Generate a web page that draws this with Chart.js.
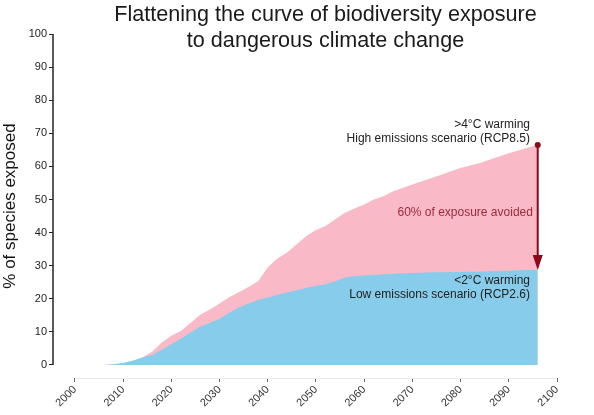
<!DOCTYPE html>
<html lang="en">
<head>
<meta charset="UTF-8">
<title>Flattening the curve of biodiversity exposure</title>
<script src="https://cdn.jsdelivr.net/npm/chart.js"></script>
<style>
  html, body { margin: 0; padding: 0; background: #fff; }
</style>
</head>
<body>
<canvas id="chart" width="594" height="415"></canvas>
<script>
const years = [2006, 2008, 2010, 2012, 2014, 2016, 2018, 2020, 2022, 2024, 2026, 2028,
  2030, 2032, 2034, 2036, 2038, 2040, 2042, 2044, 2046, 2048, 2050, 2052, 2054, 2056,
  2058, 2060, 2062, 2064, 2066, 2068, 2070, 2072, 2074, 2076, 2078, 2080, 2082, 2084,
  2086, 2088, 2090, 2092, 2094, 2096];
const lowEmissions = [0, 0.2, 0.6, 1.3, 2.3, 3.0, 4.6, 6.3, 8.0, 9.8, 11.6, 12.8,
  14.0, 15.8, 17.4, 18.6, 19.6, 20.4, 21.2, 21.9, 22.6, 23.3, 23.9, 24.4, 25.3, 26.4,
  26.8, 27.0, 27.2, 27.4, 27.5, 27.7, 27.8, 27.9, 28.0, 28.0, 28.1, 28.1, 28.2, 28.2,
  28.3, 28.4, 28.5, 28.6, 28.7, 28.7];
const highEmissions = [0, 0.2, 0.6, 1.3, 2.3, 4.0, 6.8, 8.8, 10.3, 12.8, 15.2, 16.8,
  18.6, 20.5, 22.0, 23.6, 25.3, 29.5, 32.2, 34.0, 36.5, 39.0, 40.8, 42.0, 44.0, 46.0,
  47.3, 48.5, 50.0, 51.0, 52.5, 53.5, 54.5, 55.5, 56.5, 57.5, 58.5, 59.5, 60.3, 61.0,
  62.0, 63.0, 64.0, 64.8, 65.7, 66.5];
const xTicks = [2000, 2010, 2020, 2030, 2040, 2050, 2060, 2070, 2080, 2090, 2100];
const yTicks = [0, 10, 20, 30, 40, 50, 60, 70, 80, 90, 100];

const titleLines = ['Flattening the curve of biodiversity exposure', 'to dangerous climate change'];
const highLabel = ['>4\u00B0C warming', 'High emissions scenario (RCP8.5)'];
const lowLabel = ['<2\u00B0C warming', 'Low emissions scenario (RCP2.6)'];
const avoidedLabel = '60% of exposure avoided';

const FONT = '"Liberation Sans", Arial, sans-serif';
const PINK = 'rgb(249, 185, 198)';
const BLUE = 'rgb(135, 205, 235)';
const DARKRED = '#8b0a1a';

const toPoints = vals => vals.map((v, i) => ({ x: years[i], y: v }));

const extras = {
  id: 'extras',
  afterDraw(chart) {
    const { ctx, chartArea, scales: { x, y } } = chart;
    ctx.save();

    // y axis line, 0 to 100 only
    ctx.strokeStyle = '#222';
    ctx.lineWidth = 1.5;
    ctx.beginPath();
    ctx.moveTo(chartArea.left, y.getPixelForValue(0));
    ctx.lineTo(chartArea.left, y.getPixelForValue(100));
    ctx.stroke();

    // faint x axis line
    ctx.strokeStyle = '#e8e8e8';
    ctx.lineWidth = 1;
    ctx.beginPath();
    ctx.moveTo(x.getPixelForValue(2000), chartArea.bottom + 0.5);
    ctx.lineTo(x.getPixelForValue(2100), chartArea.bottom + 0.5);
    ctx.stroke();

    // arrow between the two scenarios at the last year
    const lastYear = years[years.length - 1];
    const ax = x.getPixelForValue(lastYear);
    const yTop = y.getPixelForValue(highEmissions[highEmissions.length - 1]);
    const yBot = y.getPixelForValue(lowEmissions[lowEmissions.length - 1]);
    ctx.strokeStyle = DARKRED;
    ctx.fillStyle = DARKRED;
    ctx.lineWidth = 2;
    ctx.beginPath();
    ctx.moveTo(ax, yTop);
    ctx.lineTo(ax, yBot - 12);
    ctx.stroke();
    ctx.beginPath();
    ctx.arc(ax, yTop, 3, 0, Math.PI * 2);
    ctx.fill();
    ctx.beginPath();
    ctx.moveTo(ax - 5, yBot - 15);
    ctx.lineTo(ax + 5, yBot - 15);
    ctx.lineTo(ax, yBot);
    ctx.closePath();
    ctx.fill();

    // annotations
    ctx.textAlign = 'right';
    ctx.textBaseline = 'middle';
    ctx.font = '12px ' + FONT;
    ctx.fillStyle = '#222';
    const tx = x.getPixelForValue(2094.4);
    ctx.fillText(highLabel[0], tx, y.getPixelForValue(72.5));
    ctx.fillText(highLabel[1], tx, y.getPixelForValue(68.3));
    ctx.fillText(lowLabel[0], tx, y.getPixelForValue(25.4));
    ctx.fillText(lowLabel[1], tx, y.getPixelForValue(21.1));
    ctx.fillStyle = '#9c2b3c';
    ctx.fillText(avoidedLabel, x.getPixelForValue(2095), y.getPixelForValue(45.9));

    // title
    ctx.textAlign = 'center';
    ctx.textBaseline = 'alphabetic';
    ctx.fillStyle = '#1a1a1a';
    ctx.font = '21.6px ' + FONT;
    ctx.fillText(titleLines[0], 325.5, 20.5);
    ctx.fillText(titleLines[1], 325.5, 47);
    ctx.restore();
  }
};

new Chart(document.getElementById('chart'), {
  type: 'line',
  data: {
    datasets: [
      {
        label: 'RCP2.6',
        data: toPoints(lowEmissions),
        borderWidth: 0,
        borderColor: BLUE,
        backgroundColor: BLUE,
        pointRadius: 0,
        fill: 'origin'
      },
      {
        label: 'RCP8.5',
        data: toPoints(highEmissions),
        borderWidth: 0,
        borderColor: PINK,
        backgroundColor: PINK,
        pointRadius: 0,
        fill: 'origin'
      }
    ]
  },
  options: {
    responsive: false,
    animation: false,
    layout: { padding: { top: 34, right: 37, left: 0, bottom: 0 } },
    plugins: {
      legend: { display: false },
      tooltip: { enabled: false }
    },
    scales: {
      x: {
        type: 'linear',
        min: 1995.44,
        max: 2100,
        afterBuildTicks: s => { s.ticks = xTicks.map(v => ({ value: v })); },
        afterFit: s => { s.height = 37; },
        border: { display: false },
        grid: { drawOnChartArea: false, drawTicks: true, tickLength: 4, color: '#666' },
        ticks: {
          minRotation: 45,
          maxRotation: 45,
          padding: 1,
          color: '#333',
          font: { family: FONT, size: 11 },
          callback: v => String(v)
        }
      },
      y: {
        min: -3.93,
        max: 100,
        afterBuildTicks: s => { s.ticks = yTicks.map(v => ({ value: v })); },
        afterFit: s => { s.width = 53; },
        border: { display: false },
        grid: { drawOnChartArea: false, drawTicks: true, tickLength: 4, color: '#222' },
        ticks: {
          padding: 2,
          color: '#222',
          font: { family: FONT, size: 11 },
          callback: v => String(v)
        },
        title: {
          display: true,
          text: '% of species exposed',
          color: '#111',
          padding: 0,
          font: { family: FONT, size: 17 }
        }
      }
    }
  },
  plugins: [extras]
});
</script>
</body>
</html>
